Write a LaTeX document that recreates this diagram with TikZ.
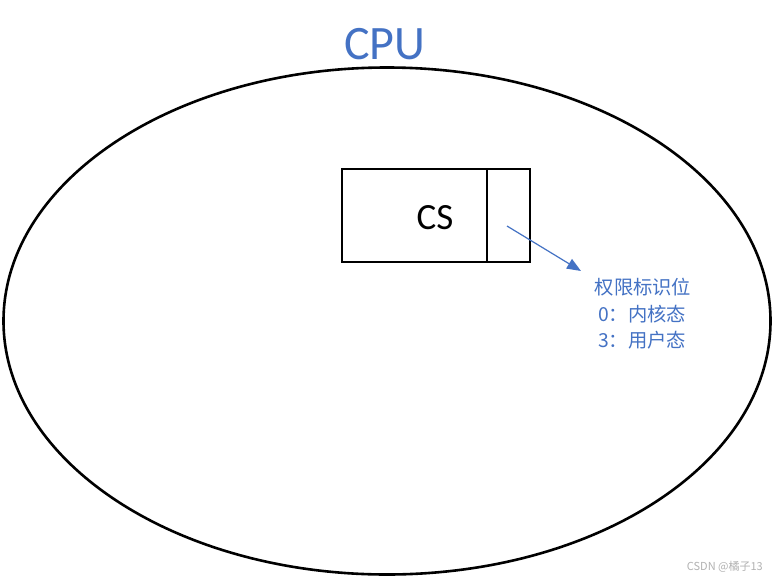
\documentclass[tikz,border=0pt]{standalone}
\usepackage{fontspec}
\setmainfont{Carlito}
\newfontfamily\cjk{Noto Sans CJK SC}
\usetikzlibrary{arrows.meta,shapes.geometric}
\definecolor{ofblue}{HTML}{4472C4}
\begin{document}
\begin{tikzpicture}[x=1pt,y=-1pt,
  outline/.style={draw=black,line width=2.6pt},
  label/.style={text=ofblue,font=\cjk\fontsize{19.3}{22}\selectfont,inner sep=0pt,anchor=center}]
\useasboundingbox[fill=white] (0,0) rectangle (773,581);
\node[outline,ellipse,minimum width=767pt,minimum height=507pt,inner sep=0pt] (cpu) at (387,321) {};
\node[text=ofblue,font=\fontsize{48}{54}\selectfont,inner sep=0pt] (cputxt) at (385,44) {CPU};
\node[outline,line width=2.2pt,minimum width=188pt,minimum height=93pt,inner sep=0pt,anchor=north west] (cs) at (341,168) {};
\coordinate (divtop) at (487,168);
\coordinate (divbot) at (487,261);
\draw[line width=1.5pt] (divtop) -- (divbot);
\node[font=\fontsize{37}{42}\selectfont,inner sep=0pt] (cstxt) at (435,218) {CS};
\coordinate (astart) at (507,226);
\coordinate (aend) at (581,271);
\draw[ofblue,line width=1.2pt,-{Triangle[length=14pt,width=11pt]}] (astart) -- (aend);
\node[label] (l1) at (643,287) {权限标识位};
\node[label] (l2) at (642,314) {0：内核态};
\node[label] (l3) at (642,340) {3：用户态};
\node[text=black!30,font=\cjk\fontsize{11}{13}\selectfont,inner sep=0pt,anchor=east] (wm) at (763,567) {CSDN @橘子13};
\end{tikzpicture}
\end{document}
